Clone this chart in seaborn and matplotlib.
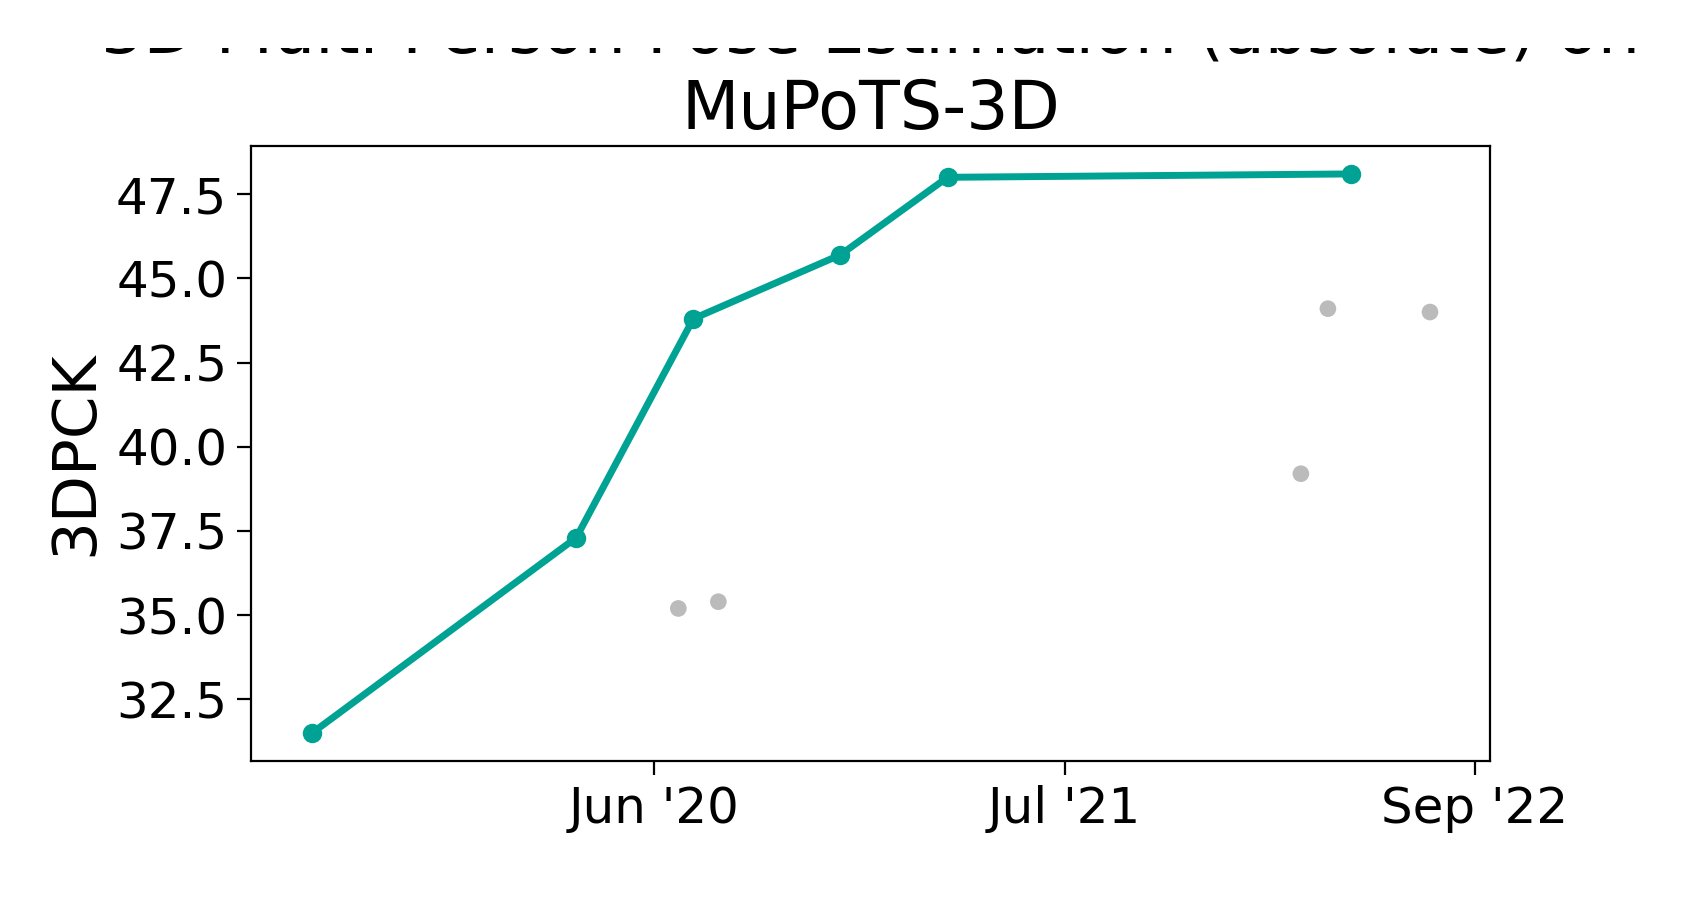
import matplotlib
matplotlib.use('Agg')
import matplotlib.pyplot as plt
import matplotlib.dates as mdates
import matplotlib.ticker as mticker
import seaborn as sns
import pandas as pd

# best results over time (state of the art line)
sota_dates = ['2019-07-04', '2020-03-24', '2020-07-19', '2020-12-13', '2021-03-30', '2022-05-07']
sota_values = [31.5, 37.3, 43.8, 45.7, 48.0, 48.1]

# other submitted results
other_dates = ['2020-07-04', '2020-08-13', '2022-03-18', '2022-04-14', '2022-07-25']
other_values = [35.2, 35.4, 39.2, 44.1, 44.0]

tick_dates = ['2020-06-10', '2021-07-25', '2022-09-08']
tick_labels = ["Jun '20", "Jul '21", "Sep '22"]

title = '3D Multi-Person Pose Estimation (absolute) on\nMuPoTS-3D'
ylabel = '3DPCK'

sota = pd.DataFrame({'date': pd.to_datetime(sota_dates), 'value': sota_values})
other = pd.DataFrame({'date': pd.to_datetime(other_dates), 'value': other_values})

sns.set_style('white')
plt.rcParams['font.family'] = ['DejaVu Sans']
plt.rcParams['text.color'] = 'black'
plt.rcParams['axes.labelcolor'] = 'black'
plt.rcParams['xtick.color'] = 'black'
plt.rcParams['ytick.color'] = 'black'

fig, ax = plt.subplots(figsize=(8.5, 4.5), dpi=200)
fig.subplots_adjust(left=0.1476, right=0.8765, top=0.8378, bottom=0.1544)

sns.scatterplot(data=other, x='date', y='value', ax=ax, color='#bbbbbb',
                s=36, edgecolor='none', zorder=2)
sns.lineplot(data=sota, x='date', y='value', ax=ax, color='#00a393',
             linewidth=2.5, marker='o', markersize=7, markeredgewidth=0, zorder=3)

ax.set_xlim(mdates.date2num(pd.Timestamp('2019-05-04')), mdates.date2num(pd.Timestamp('2022-09-23')))
ax.set_xticks(mdates.date2num(pd.to_datetime(tick_dates)))
ax.set_xticklabels(tick_labels)
ax.yaxis.set_major_locator(mticker.MultipleLocator(2.5))
ax.yaxis.set_major_formatter(mticker.FormatStrFormatter('%.1f'))
ax.tick_params(axis='both', labelsize=18, length=5, width=0.8, bottom=True, left=True)
ax.set_xlabel('')
ax.set_ylabel(ylabel, fontsize=22)
ax.set_title(title, fontsize=24, color='black')
for sp in ax.spines.values():
    sp.set_color('black')
    sp.set_linewidth(0.8)

# top of the first title line is cut off in the original image
fig.patches.append(plt.Rectangle((0, 1 - 48 / 900), 1, 48 / 900, transform=fig.transFigure,
                                 facecolor='white', edgecolor='none', zorder=10))

fig.savefig('out.png', dpi=200)
